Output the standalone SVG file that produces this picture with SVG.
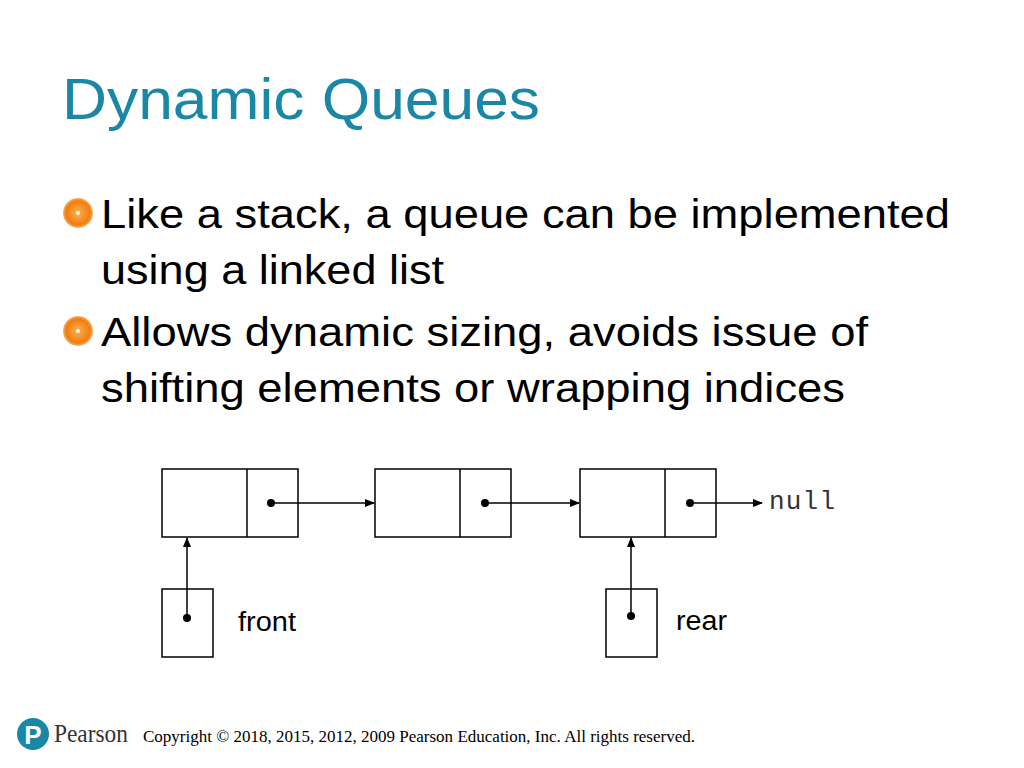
<svg xmlns="http://www.w3.org/2000/svg" width="1024" height="768" viewBox="0 0 1024 768">
<style>
.b{fill:#fff;stroke:#000;stroke-width:1.5}
.l{stroke:#000;stroke-width:1.5;fill:none}
.t{font-family:"Liberation Sans",Arial,sans-serif;fill:#000}
</style>
<defs>
<marker id="a" markerWidth="10" markerHeight="8" refX="9" refY="4" orient="auto" markerUnits="userSpaceOnUse"><path d="M0,0L10,4L0,8z" fill="#000"/></marker>
<radialGradient id="o"><stop offset="0" stop-color="#ffb050"/><stop offset="0.8" stop-color="#f07d10"/><stop offset="1" stop-color="#f9b36a"/></radialGradient>
</defs>
<rect width="1024" height="768" fill="#fff"/>
<text x="62" y="119" font-family="Liberation Sans,Arial,sans-serif" font-size="57" fill="#1a87a6" textLength="478" lengthAdjust="spacingAndGlyphs">Dynamic Queues</text>
<circle cx="78" cy="213" r="15" fill="url(#o)"/><circle cx="78" cy="213" r="2" fill="#fff"/>
<circle cx="78" cy="331" r="15" fill="url(#o)"/><circle cx="78" cy="331" r="2" fill="#fff"/>
<g class="t" font-size="40">
<text x="101" y="228" textLength="849" lengthAdjust="spacingAndGlyphs">Like a stack, a queue can be implemented</text>
<text x="101" y="284" textLength="343" lengthAdjust="spacingAndGlyphs">using a linked list</text>
<text x="101" y="346" textLength="767" lengthAdjust="spacingAndGlyphs">Allows dynamic sizing, avoids issue of</text>
<text x="101" y="402" textLength="744" lengthAdjust="spacingAndGlyphs">shifting elements or wrapping indices</text>
</g>
<g id="n1"><rect class="b" x="162" y="469" width="136" height="68"/><line class="l" x1="247" y1="469" x2="247" y2="537"/><circle cx="271" cy="503" r="4"/></g>
<g id="n2"><rect class="b" x="375" y="469" width="136" height="68"/><line class="l" x1="460" y1="469" x2="460" y2="537"/><circle cx="485" cy="503" r="4"/></g>
<g id="n3"><rect class="b" x="580" y="469" width="136" height="68"/><line class="l" x1="665" y1="469" x2="665" y2="537"/><circle cx="690" cy="503" r="4"/></g>
<g id="front"><rect class="b" x="162" y="589" width="51" height="68"/><circle cx="187" cy="618" r="4"/><text class="t" x="238" y="631" font-size="27" textLength="58" lengthAdjust="spacingAndGlyphs">front</text></g>
<g id="rear"><rect class="b" x="606" y="589" width="51" height="68"/><circle cx="631" cy="616" r="4"/><text class="t" x="676" y="630" font-size="27" textLength="51" lengthAdjust="spacingAndGlyphs">rear</text></g>
<text x="769" y="509" font-family="Liberation Mono,monospace" font-size="26" fill="#333" textLength="66">null</text>
<g id="connectors">
<line class="l" x1="271" y1="503" x2="374" y2="503" marker-end="url(#a)"/>
<line class="l" x1="485" y1="503" x2="579" y2="503" marker-end="url(#a)"/>
<line class="l" x1="690" y1="503" x2="762" y2="503" marker-end="url(#a)"/>
<line class="l" x1="187" y1="618" x2="187" y2="538" marker-end="url(#a)"/>
<line class="l" x1="631" y1="616" x2="631" y2="538" marker-end="url(#a)"/>
</g>
<circle cx="33" cy="734" r="16" fill="#1a87a6"/>
<text x="33" y="744" text-anchor="middle" font-family="Liberation Sans,Arial,sans-serif" font-weight="bold" font-size="26" fill="#fff">P</text>
<text x="54" y="742" font-family="Liberation Serif,serif" font-size="25" fill="#333" textLength="74" lengthAdjust="spacingAndGlyphs">Pearson</text>
<text x="143" y="742" font-family="Liberation Serif,serif" font-size="17" fill="#000" textLength="552" lengthAdjust="spacingAndGlyphs">Copyright © 2018, 2015, 2012, 2009 Pearson Education, Inc. All rights reserved.</text>
</svg>
